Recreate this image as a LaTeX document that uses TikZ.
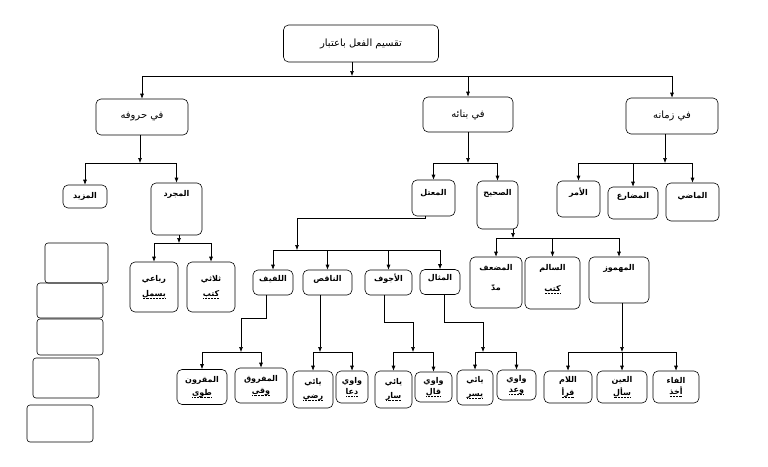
\documentclass[tikz,border=0pt]{standalone}
\usepackage{fontspec}
\usepackage{tikz}
\usetikzlibrary{arrows.meta}

\newfontfamily\arabicfont[Script=Arabic]{DejaVu Sans}
\TeXXeTstate=1
\newcommand\artext[1]{{\arabicfont\beginR #1\endR}}
\newsavebox\exbox
% example word with a dotted underline
\newcommand\exword[1]{\leavevmode\sbox\exbox{\artext{#1}}%
  \rlap{\raisebox{-2.5pt}{\hbox to \wd\exbox{\xleaders\hbox to 1.4pt{\hss\vrule width 0.7pt height 0.7pt\hss}\hfill}}}%
  \usebox\exbox}

\begin{document}
\begin{tikzpicture}[x=1pt,y=-1pt,line width=0.6pt,>={Latex[length=5pt,width=4pt]},
  box/.style={draw,rounded corners=5pt,inner sep=2pt,align=center,
    font=\arabicfont\fontsize{8}{9.5}\selectfont\bfseries},
  headbox/.style={box,font=\arabicfont\fontsize{10}{12}\selectfont},
  lift/.style={text height=8pt,text depth=#1},
  emptybox/.style={draw,rounded corners=3pt,inner sep=0pt}]
  \useasboundingbox (0,0) rectangle (768,466);

  % top levels
  \node[headbox,minimum width=155pt,minimum height=37pt] (title) at (361,43.5) {\artext{تقسيم الفعل باعتبار}};
  \node[headbox,minimum width=92pt,minimum height=36pt] (hurufih) at (142,117) {\artext{في حروفه}};
  \node[headbox,minimum width=90pt,minimum height=35pt] (binaih) at (468,114.5) {\artext{في بنائه}};
  \node[headbox,minimum width=92pt,minimum height=36pt] (zamanih) at (672,116) {\artext{في زمانه}};

  \coordinate (b0) at (352,76);
  \draw[->] (title.south -| b0) -- (b0);
  \draw (hurufih.north |- b0) -- (zamanih.north |- b0);
  \foreach \n in {hurufih,binaih,zamanih}
    \draw[->] (\n.north |- b0) -- (\n.north);

  % fi hurufih
  \node[box,minimum width=44pt,minimum height=23pt] (mazid) at (85,196.5) {\artext{المزيد}};
  \node[box,minimum width=51pt,minimum height=52pt,lift=34pt] (mujarrad) at (176.5,209) {\artext{المجرد}};
  \coordinate (b1) at (140,163);
  \draw[->] (hurufih.south -| b1) -- (b1);
  \draw (mazid.north |- b1) -- (mujarrad.north |- b1);
  \foreach \n in {mazid,mujarrad}
    \draw[->] (\n.north |- b1) -- (\n.north);

  \node[box,minimum width=48pt,minimum height=50pt] (rubai) at (154,287) {\artext{رباعي}\\[5pt]\exword{بسمل}};
  \node[box,minimum width=48pt,minimum height=50pt] (thulathi) at (211,287) {\artext{ثلاثي}\\[5pt]\exword{كتب}};
  \coordinate (b2) at (179,243);
  \draw[->] (mujarrad.south -| b2) -- (b2);
  \draw (rubai.north |- b2) -- (thulathi.north |- b2);
  \foreach \n in {rubai,thulathi}
    \draw[->] (\n.north |- b2) -- (\n.north);

  % empty boxes
  \node[emptybox,minimum width=63pt,minimum height=40pt] (e1) at (76.5,263) {};
  \node[emptybox,minimum width=66pt,minimum height=35pt] (e2) at (70,300.5) {};
  \node[emptybox,minimum width=66pt,minimum height=36pt] (e3) at (70,337) {};
  \node[emptybox,minimum width=66pt,minimum height=40pt] (e4) at (66,378) {};
  \node[emptybox,minimum width=66pt,minimum height=37pt] (e5) at (60,423.5) {};

  % fi zamanih
  \node[box,minimum width=43pt,minimum height=36pt,lift=16pt] (amr) at (578.5,199) {\artext{الأمر}};
  \node[box,minimum width=50pt,minimum height=32pt,lift=18pt] (mudari) at (633,203) {\artext{المضارع}};
  \node[box,minimum width=53pt,minimum height=38pt,lift=16pt] (madi) at (692.5,202) {\artext{الماضي}};
  \coordinate (b4) at (665,163);
  \draw[->] (zamanih.south -| b4) -- (b4);
  \draw (amr.north |- b4) -- (madi.north |- b4);
  \foreach \n in {amr,mudari,madi}
    \draw[->] (\n.north |- b4) -- (\n.north);

  % fi binaih
  \node[box,minimum width=43pt,minimum height=36pt,lift=14pt] (muatal) at (433.5,198) {\artext{المعتل}};
  \node[box,minimum width=41pt,minimum height=48pt,lift=28pt] (sahih) at (497.5,205) {\artext{الصحيح}};
  \coordinate (b3) at (468,163);
  \draw[->] (binaih.south -| b3) -- (b3);
  \draw (muatal.north |- b3) -- (sahih.north |- b3);
  \foreach \n in {muatal,sahih}
    \draw[->] (\n.north |- b3) -- (\n.north);

  % sahih
  \node[box,minimum width=52pt,minimum height=51pt] (mudaaf) at (496,282.5) {\artext{المضعف}\\[11pt]\artext{مدّ}\rule[-10pt]{0pt}{10pt}};
  \node[box,minimum width=55pt,minimum height=52pt] (salim) at (552.5,283) {\artext{السالم}\\[11pt]\exword{كتب}\rule[-10pt]{0pt}{10pt}};
  \node[box,minimum width=60pt,minimum height=46pt,lift=28pt] (mahmuz) at (619,280) {\artext{المهموز}};
  \coordinate (b5) at (513,238);
  \draw[->] (sahih.south -| b5) -- (b5);
  \draw (mudaaf.north |- b5) -- (mahmuz.north |- b5);
  \foreach \n in {mudaaf,salim,mahmuz}
    \draw[->] (\n.north |- b5) -- (\n.north);

  \node[box,minimum width=48pt,minimum height=32pt] (lam) at (568,387) {\artext{اللام}\\[2pt]\exword{قرأ}};
  \node[box,minimum width=50pt,minimum height=32pt] (ayn) at (622,387) {\artext{العين}\\[2pt]\exword{سأل}};
  \node[box,minimum width=46pt,minimum height=32pt] (fa) at (676,387) {\artext{الفاء}\\[2pt]\exword{أخذ}};
  \coordinate (b7) at (622,352);
  \draw[->] (mahmuz.south -| b7) -- (b7);
  \draw (lam.north |- b7) -- (fa.north |- b7);
  \foreach \n in {lam,ayn,fa}
    \draw[->] (\n.north |- b7) -- (\n.north);

  % muatal
  \node[box,minimum width=40pt,minimum height=25pt,lift=11pt] (lafif) at (273,282.5) {\artext{اللفيف}};
  \node[box,minimum width=49pt,minimum height=25pt,lift=11pt] (naqis) at (327.5,282.5) {\artext{الناقص}};
  \node[box,minimum width=47pt,minimum height=25pt,lift=11pt] (ajwaf) at (388.5,282.5) {\artext{الأجوف}};
  \node[box,minimum width=40pt,minimum height=25pt,lift=11pt] (mithal) at (440,282) {\artext{المثال}};
  \coordinate (m1) at (425,218);
  \coordinate (b6) at (297,250);
  \draw[->] (muatal.south -| m1) -- (m1) -- (m1 -| b6) -- (b6);
  \draw (lafif.north |- b6) -- (mithal.north |- b6);
  \foreach \n in {lafif,naqis,ajwaf,mithal}
    \draw[->] (\n.north |- b6) -- (\n.north);

  % lafif
  \node[box,minimum width=50pt,minimum height=35pt] (muqtarin) at (202,387) {\artext{المقرون}\\[3pt]\exword{طوى}};
  \node[box,minimum width=52pt,minimum height=35pt] (mafruq) at (261,385.5) {\artext{المفروق}\\[3pt]\exword{وقى}};
  \coordinate (l1) at (266,318);
  \coordinate (b8) at (241,352);
  \draw[->] (lafif.south -| l1) -- (l1) -- (l1 -| b8) -- (b8);
  \draw (muqtarin.north |- b8) -- (mafruq.north |- b8);
  \foreach \n in {muqtarin,mafruq}
    \draw[->] (\n.north |- b8) -- (\n.north);

  % naqis
  \node[box,minimum width=40pt,minimum height=37pt] (yai1) at (313,389.5) {\artext{يائي}\\[4pt]\exword{رضي}};
  \node[box,minimum width=32pt,minimum height=32pt] (wawi1) at (352,387) {\artext{واوي}\\[2pt]\exword{دعا}};
  \coordinate (b9) at (320,352);
  \draw[->] (naqis.south -| b9) -- (b9);
  \draw (yai1.north |- b9) -- (wawi1.north |- b9);
  \foreach \n in {yai1,wawi1}
    \draw[->] (\n.north |- b9) -- (\n.north);

  % ajwaf
  \node[box,minimum width=37pt,minimum height=37pt] (yai2) at (393.5,389.5) {\artext{يائي}\\[4pt]\exword{سار}};
  \node[box,minimum width=37pt,minimum height=30pt] (wawi2) at (433.5,387) {\artext{واوي}\\[2pt]\exword{قال}};
  \coordinate (a1) at (384,322);
  \coordinate (b10) at (413,352);
  \draw[->] (ajwaf.south -| a1) -- (a1) -| (b10);
  \draw (yai2.north |- b10) -- (wawi2.north |- b10);
  \foreach \n in {yai2,wawi2}
    \draw[->] (\n.north |- b10) -- (\n.north);

  % mithal
  \node[box,minimum width=36pt,minimum height=35pt] (yai3) at (475,387.5) {\artext{يائي}\\[4pt]\exword{يسر}};
  \node[box,minimum width=39pt,minimum height=30pt] (wawi3) at (516.5,385) {\artext{واوي}\\[2pt]\exword{وعد}};
  \coordinate (t1) at (444,322);
  \coordinate (b11) at (483,352);
  \draw[->] (mithal.south -| t1) -- (t1) -| (b11);
  \draw (yai3.north |- b11) -- (wawi3.north |- b11);
  \foreach \n in {yai3,wawi3}
    \draw[->] (\n.north |- b11) -- (\n.north);
\end{tikzpicture}
\end{document}
